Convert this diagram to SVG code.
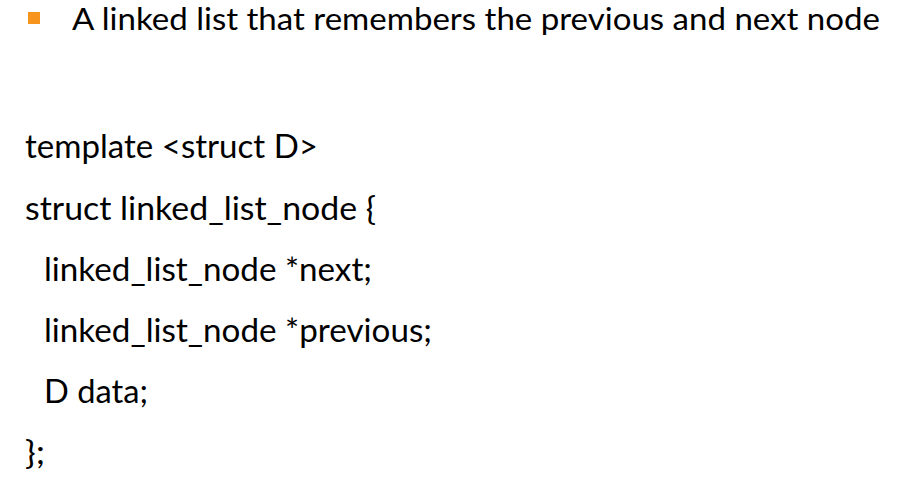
<svg xmlns="http://www.w3.org/2000/svg" width="906" height="487" viewBox="0 0 906 487">
<style>
text{font-family:Lato,"Open Sans",sans-serif;font-size:30px;fill:#000}
.c{font-size:32px}
</style>
<rect width="906" height="487" fill="#fff"/>
<g id="bullet"><rect x="28" y="12" width="12" height="12" fill="#f7941d"/></g>
<g id="heading"><text x="72" y="30" textLength="808" lengthAdjust="spacingAndGlyphs">A linked list that remembers the previous and next node</text></g>
<g id="code">
<text class="c" x="25" y="158" textLength="293" lengthAdjust="spacingAndGlyphs">template &lt;struct D&gt;</text>
<text class="c" x="25" y="220" textLength="351" lengthAdjust="spacingAndGlyphs">struct linked_list_node {</text>
<text class="c" x="44" y="281" textLength="328" lengthAdjust="spacingAndGlyphs">linked_list_node *next;</text>
<text class="c" x="44" y="342" textLength="388" lengthAdjust="spacingAndGlyphs">linked_list_node *previous;</text>
<text class="c" x="44" y="403" textLength="104" lengthAdjust="spacingAndGlyphs">D data;</text>
<text class="c" x="25" y="464" textLength="20" lengthAdjust="spacingAndGlyphs">};</text>
</g>
</svg>
